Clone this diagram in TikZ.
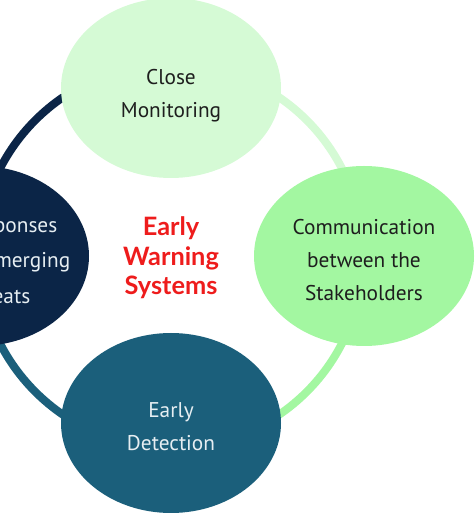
\documentclass[tikz,border=0pt]{standalone}
\usepackage{fontspec}
\setmainfont{PT Sans}
\newfontfamily\hubfont{Lato}
\usetikzlibrary{shapes.geometric}
\definecolor{mintpale}{HTML}{D5FAD5}
\definecolor{mintmid}{HTML}{A3F7A1}
\definecolor{tealdeep}{HTML}{1B5F7B}
\definecolor{navydeep}{HTML}{0B2547}
\definecolor{alertred}{HTML}{EE1C1C}
\definecolor{inkdark}{HTML}{1E1E1E}
\definecolor{inkpale}{HTML}{E6EEF2}

\begin{document}
\begin{tikzpicture}[x=0.75pt,y=0.75pt,
  bubble/.style={ellipse,minimum width=165pt,minimum height=135pt,inner sep=0pt},
  bubbletext/.style={align=center,text=inkdark,font=\fontsize{16}{25}\selectfont},
  ring/.style={line width=6pt},
  cutline/.style={anchor=east,text=inkpale,font=\fontsize{16}{25}\selectfont}]
  \useasboundingbox (0,0) rectangle (474,513);
  \clip (0,0) rectangle (474,513);
  \coordinate (hub) at (171,257);
  % ring behind the bubbles
  \draw[ring,navydeep] ([shift={(180:144pt)}]hub) arc[start angle=180,end angle=90,radius=144pt];
  \draw[ring,mintpale] ([shift={(90:144pt)}]hub) arc[start angle=90,end angle=0,radius=144pt];
  \draw[ring,mintmid] ([shift={(0:144pt)}]hub) arc[start angle=0,end angle=-90,radius=144pt];
  \draw[ring,tealdeep] ([shift={(-90:144pt)}]hub) arc[start angle=-90,end angle=-180,radius=144pt];
  % bubbles
  \node[bubble,fill=mintpale] (monitor) at (171,425) {};
  \node[bubble,fill=mintmid] (comms) at (364,257) {};
  \node[bubble,fill=tealdeep] (detect) at (171,90) {};
  \node[bubble,fill=navydeep] (respond) at (-21,257) {};
  \node[bubbletext] (monitor-txt) at ([yshift=-6pt]monitor) {Close\\Monitoring};
  \node[bubbletext] (comms-txt) at ([yshift=-3pt]comms) {Communication\\between the\\Stakeholders};
  \node[bubbletext,text=inkpale] (detect-txt) at ([yshift=-2.5pt]detect) {Early\\Detection};
  \node[cutline] (respa) at (62,286) {Responses};
  \node[cutline] (respb) at (75,251) {Emerging};
  \node[cutline] (respc) at (35,217) {Threats};
  \node[font=\hubfont\bfseries\fontsize{19}{22}\selectfont,text=alertred,align=center]
    (title) at ([yshift=-1.5pt]hub) {Early\\Warning\\Systems};
\end{tikzpicture}
\end{document}
